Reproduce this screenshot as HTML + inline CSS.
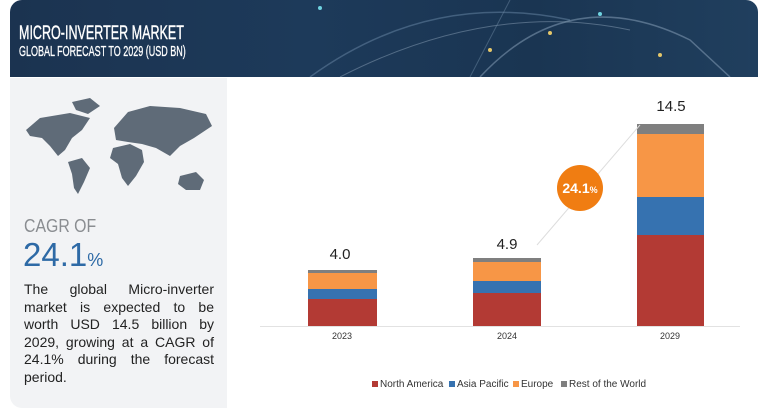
<!DOCTYPE html>
<html><head><meta charset="utf-8"><style>
*{margin:0;padding:0;box-sizing:border-box}
body{width:768px;height:410px;background:#fff;position:relative;overflow:hidden;font-family:"Liberation Sans",sans-serif}
.hdr{position:absolute;left:10px;top:0;width:748px;height:77px;border-radius:12px 12px 0 0;background:linear-gradient(90deg,#1b3350 0%,#1d3a5a 40%,#1a3552 70%,#203f5e 100%);overflow:hidden}
.t1{position:absolute;left:9px;top:23px;color:#fff;font-size:19px;transform:scaleX(.66);transform-origin:left;white-space:nowrap;-webkit-text-stroke:.4px #fff}
.t2{position:absolute;left:9px;top:43px;color:#fff;font-size:15px;transform:scaleX(.6);transform-origin:left;white-space:nowrap;-webkit-text-stroke:.3px #fff}
.left{position:absolute;left:10px;top:78px;width:217px;height:330px;background:#f2f3f5;border-radius:0 0 0 12px}
.cagr{position:absolute;left:24px;top:216px;font-size:18px;color:#8a8d91;transform:scaleX(.88);transform-origin:left}
.big{position:absolute;left:23px;top:236px;font-size:33px;color:#2e6aa6}
.big span{font-size:18px}
.p{position:absolute;left:24px;top:281px;width:190px;font-size:14px;line-height:17.6px;text-align:justify;color:#222}
.lab{position:absolute;font-size:15px;color:#222;transform:translateX(-50%)}
.yr{position:absolute;font-size:9px;color:#333;transform:translateX(-50%);top:331px}
.leg{position:absolute;top:379px;font-size:10px;color:#333;white-space:nowrap}
.leg i{display:inline-block;width:6px;height:6px;margin-right:2px}
</style></head><body>
<div class="hdr">
<svg width="748" height="77" style="position:absolute;left:0;top:0">
<path d="M300 77 Q420 -10 560 20" stroke="#5e7c9a" stroke-width="1.5" fill="none" opacity=".6"/>
<path d="M470 77 Q560 -20 680 40 L720 77" stroke="#7c95ad" stroke-width="1.5" fill="none" opacity=".6"/>
<path d="M330 77 Q480 0 620 30" stroke="#8aa0b5" stroke-width="1" fill="none" opacity=".5"/>
<path d="M500 0 L460 77" stroke="#6a86a0" stroke-width="1" opacity=".5"/>
<circle cx="480" cy="50" r="2" fill="#e5c76a"/><circle cx="540" cy="33" r="2" fill="#e5c76a"/><circle cx="590" cy="14" r="2" fill="#6fd3e0"/><circle cx="310" cy="8" r="2" fill="#6fd3e0"/><circle cx="650" cy="55" r="2" fill="#e5c76a"/>
</svg>
<div class="t1">MICRO-INVERTER MARKET</div>
<div class="t2">GLOBAL FORECAST TO 2029 (USD BN)</div>
</div>
<div class="left">
<svg width="217" height="130" style="position:absolute;left:0;top:0" fill="#5f6b78">
<path d="M16 52 L30 40 L60 35 L80 40 L72 52 L62 60 L55 72 L48 78 L40 68 L32 60 L20 58Z"/>
<path d="M62 24 L80 20 L90 28 L78 36 L66 32Z"/>
<path d="M58 84 L72 80 L80 90 L74 104 L68 116 L64 110 L62 96Z"/>
<path d="M103 70 L120 66 L132 72 L134 84 L126 98 L118 108 L112 100 L108 86 L100 80Z"/>
<path d="M104 50 L118 34 L140 28 L170 30 L196 36 L202 48 L184 60 L170 68 L160 78 L146 70 L132 66 L118 64 L106 62Z"/>
<path d="M170 98 L186 94 L194 102 L190 112 L176 112 L168 106Z"/>
</svg>
</div>
<div class="cagr">CAGR OF</div>
<div class="big">24.1<span>%</span></div>
<div class="p">The global Micro-inverter market is expected to be worth USD 14.5 billion by 2029, growing at a CAGR of 24.1% during the forecast period.</div>
<svg width="768" height="410" style="position:absolute;left:0;top:0">
<line x1="260" y1="326.5" x2="740" y2="326.5" stroke="#e2e2e2"/>
<rect x="308" y="270" width="69" height="3" fill="#7f7f7f"/>
<rect x="308" y="273" width="69" height="16" fill="#f79646"/>
<rect x="308" y="289" width="69" height="10" fill="#3672b0"/>
<rect x="308" y="299" width="69" height="27" fill="#b33a34"/>
<rect x="473" y="258" width="68" height="4" fill="#7f7f7f"/>
<rect x="473" y="262" width="68" height="19" fill="#f79646"/>
<rect x="473" y="281" width="68" height="12" fill="#3672b0"/>
<rect x="473" y="293" width="68" height="33" fill="#b33a34"/>
<rect x="637" y="124" width="67" height="10" fill="#7f7f7f"/>
<rect x="637" y="134" width="67" height="63" fill="#f79646"/>
<rect x="637" y="197" width="67" height="38" fill="#3672b0"/>
<rect x="637" y="235" width="67" height="91" fill="#b33a34"/>
<line x1="537" y1="245" x2="640" y2="125" stroke="#ddd" stroke-width="1"/>
<circle cx="580" cy="188" r="23" fill="#f07d12"/>
<text x="580" y="193" text-anchor="middle" fill="#fff" font-size="14" font-weight="bold" font-family="Liberation Sans">24.1<tspan font-size="9">%</tspan></text>
</svg>
<div class="lab" style="left:340px;top:246px">4.0</div>
<div class="lab" style="left:507px;top:236px">4.9</div>
<div class="lab" style="left:671px;top:98px">14.5</div>
<div class="yr" style="left:342px">2023</div>
<div class="yr" style="left:507px">2024</div>
<div class="yr" style="left:670px">2029</div>
<div class="leg" style="left:372px"><i style="background:#b33a34"></i>North America</div>
<div class="leg" style="left:449px"><i style="background:#3672b0"></i>Asia Pacific</div>
<div class="leg" style="left:513px"><i style="background:#f79646"></i>Europe</div>
<div class="leg" style="left:561px"><i style="background:#7f7f7f"></i>Rest of the World</div>
</body></html>
